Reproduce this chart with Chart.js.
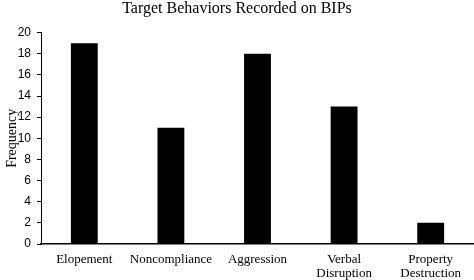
<!DOCTYPE html>
<html>
<head>
<meta charset="utf-8">
<script src="https://cdn.jsdelivr.net/npm/chart.js@4/dist/chart.umd.min.js"></script>
<style>
html,body{margin:0;padding:0;background:#fff;}
#wrap{width:474px;height:280px;}
</style>
</head>
<body>
<div id="wrap"><canvas id="c" width="474" height="280"></canvas></div>
<script>
const categories = ['Elopement', 'Noncompliance', 'Aggression', ['Verbal', 'Disruption'], ['Property', 'Destruction']];
const frequency = [19, 11, 18, 13, 2];
const yTicks = [0, 2, 4, 6, 8, 10, 12, 14, 16, 18, 20];
const chartTitle = 'Target Behaviors Recorded on BIPs';
const yTitle = 'Frequency';

new Chart(document.getElementById('c'), {
  type: 'bar',
  data: {
    labels: categories,
    datasets: [{
      data: frequency,
      backgroundColor: '#000',
      borderWidth: 0,
      categoryPercentage: 1,
      barPercentage: 0.31
    }]
  },
  options: {
    responsive: false,
    animation: false,
    devicePixelRatio: 1,
    layout: { padding: { left: 0, right: 0, top: 0, bottom: 0 } },
    plugins: {
      legend: { display: false },
      tooltip: { enabled: false },
      title: {
        display: true,
        text: chartTitle,
        color: '#000',
        font: { family: 'Liberation Serif', size: 16, weight: 'normal', lineHeight: 1.1 },
        padding: { top: 0, bottom: 15 }
      }
    },
    scales: {
      x: {
        grid: { display: false, drawTicks: false },
        border: { display: true, color: '#000', width: 1.5 },
        ticks: {
          color: '#000',
          padding: 9,
          maxRotation: 0,
          autoSkip: false,
          font: { family: 'Liberation Serif', size: 13, lineHeight: 1.05 }
        },
        afterFit(scale) { scale.height = 36; }
      },
      y: {
        min: 0,
        max: 20,
        afterBuildTicks(scale) { scale.ticks = yTicks.map(v => ({ value: v })); },
        grid: { drawOnChartArea: false, drawTicks: true, tickLength: 4, color: '#000', lineWidth: 1 },
        border: { display: true, color: '#000', width: 1 },
        ticks: {
          color: '#000',
          padding: 6,
          font: { family: 'Liberation Sans', size: 12 }
        },
        title: {
          display: true,
          text: yTitle,
          color: '#000',
          padding: { top: 4, bottom: 4 },
          font: { family: 'Liberation Serif', size: 14 }
        },
        afterFit(scale) { scale.width = 41; }
      }
    }
  }
});
</script>
</body>
</html>
